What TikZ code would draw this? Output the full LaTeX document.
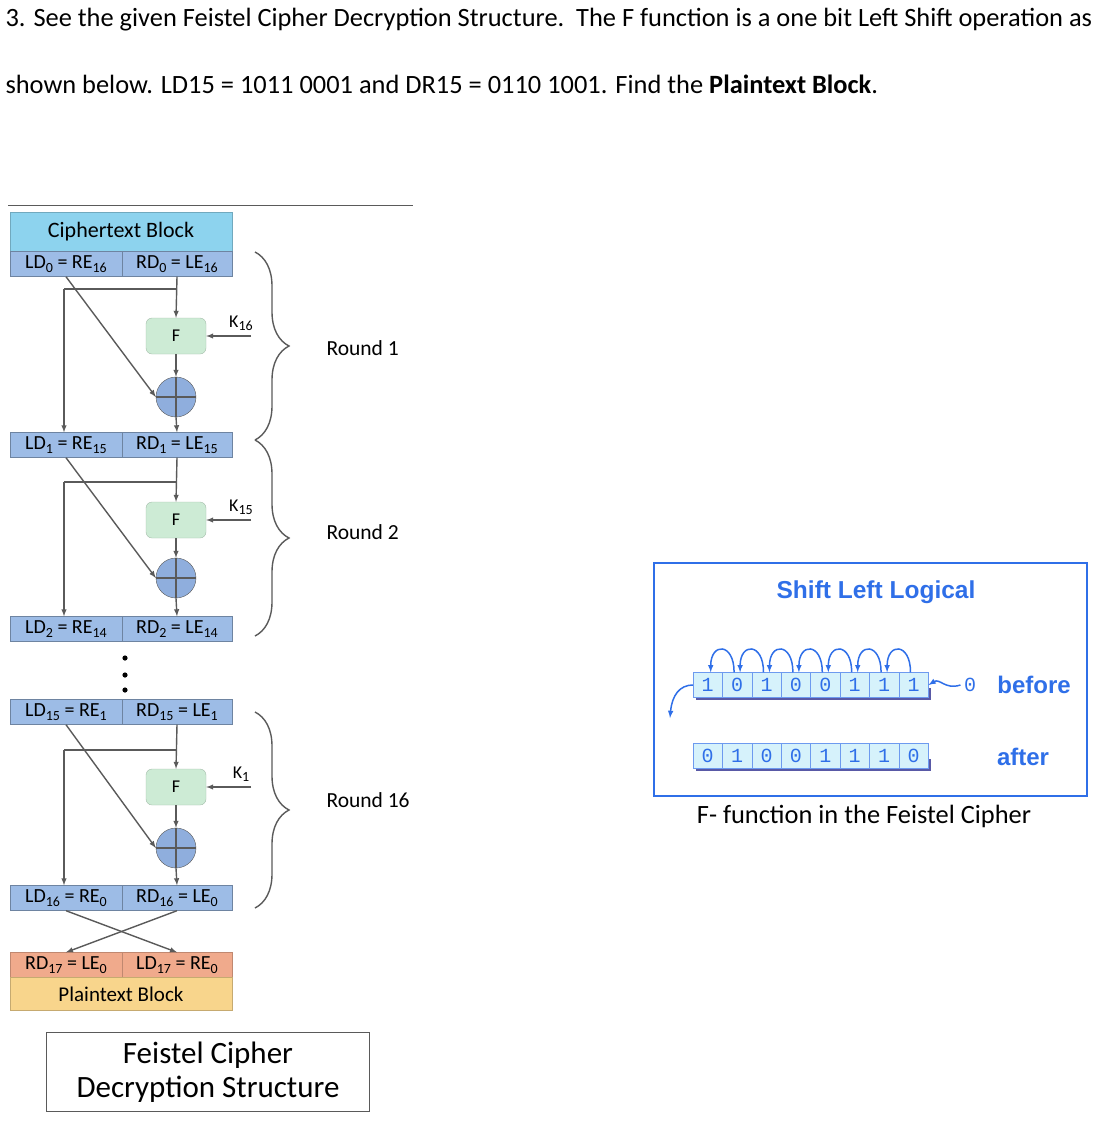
\documentclass[tikz,border=0pt]{standalone}
\usepackage{fontspec}
\setmainfont{Carlito}
\newfontfamily\arialfont{Liberation Sans}
\newfontfamily\monofont{Liberation Mono}
\usetikzlibrary{positioning,decorations.pathreplacing,calc}

\definecolor{cipherblue}{HTML}{8DD3EE}
\definecolor{rowblue}{HTML}{9DBCE6}
\definecolor{fgreen}{HTML}{CDEBD5}
\definecolor{xorblue}{HTML}{8FAEDD}
\definecolor{plainorange}{HTML}{F0AA8C}
\definecolor{plainyellow}{HTML}{F8D58C}
\definecolor{shiftblue}{HTML}{2F6FE8}
\definecolor{cellfill}{HTML}{D6F2FB}
\definecolor{linegray}{HTML}{5A5A5A}

\newcommand{\sub}[1]{\raisebox{-0.35ex}{\fontsize{14}{14}\selectfont #1}}

\tikzset{
  half/.style={draw=rowblue!70!black,fill=rowblue,minimum height=25pt,inner sep=0pt,font=\fontsize{20}{20}\selectfont},
  ffun/.style={draw=fgreen!80!black,fill=fgreen,rounded corners=6pt,minimum width=60pt,minimum height=36pt,font=\fontsize{18}{18}\selectfont},
  xor/.style={draw=linegray,fill=xorblue,circle,minimum size=40pt,inner sep=0pt},
  flow/.style={draw=linegray,line width=1.4pt,-latex},
  cell/.style={draw=shiftblue!70,fill=cellfill,minimum width=29.4pt,minimum height=25pt,inner sep=0pt,font=\monofont\fontsize{20}{20}\selectfont,text=shiftblue},
  brc/.style={draw=linegray,line width=1.4pt,decorate,decoration={brace,amplitude=34pt}},
}

\begin{document}
\begin{tikzpicture}[x=1pt,y=-1pt]
  \useasboundingbox (0,0) rectangle (1108,1122);
  \node[anchor=west,font=\fontsize{26.4}{26}\selectfont] (head1) at (2,20) {3. See the given Feistel Cipher Decryption Structure.\ \ The F function is a one bit Left Shift operation as};
  \node[anchor=west,font=\fontsize{26.4}{26}\selectfont] (head2) at (2,84) {shown below. LD15 = 1011 0001 and DR15 = 0110 1001. Find the \textbf{Plaintext Block}.};
  \draw[linegray,line width=0.8pt] (8,205) -- (413,205);

  % ciphertext block
  \node[draw=cipherblue!80!black,fill=cipherblue,minimum width=222pt,minimum height=40pt,inner sep=0pt,font=\fontsize{22}{22}\selectfont] (ctext) at (121,232) {Ciphertext Block};

  % rows
  \foreach \y/\n/\l/\r in {264/0/LD\sub{0} = RE\sub{16}/RD\sub{0} = LE\sub{16},
                         445/1/LD\sub{1} = RE\sub{15}/RD\sub{1} = LE\sub{15},
                         629/2/LD\sub{2} = RE\sub{14}/RD\sub{2} = LE\sub{14},
                         712/15/LD\sub{15} = RE\sub{1}/RD\sub{15} = LE\sub{1},
                         898/16/LD\sub{16} = RE\sub{0}/RD\sub{16} = LE\sub{0}}{
    \node[half,minimum width=112pt] (r\n L) at (66,\y) {\l};
    \node[half,minimum width=110pt] (r\n R) at (177,\y) {\r};
  }

  % rounds
  \foreach \a/\b/\f/\x/\h/\k in {0/1/336/397/289/16, 1/2/520/578/482/15, 15/16/787/848/750/1}{
    \node[ffun] (F\a) at (176,\f) {F};
    \node[xor] (X\a) at (176,\x) {};
    \draw[linegray,line width=1.2pt] (X\a.north) -- (X\a.south) (X\a.west) -- (X\a.east);
    \coordinate (K\a) at (251,\f);
    \node[font=\fontsize{18}{18}\selectfont,anchor=south] at (241,\f-2) {K\sub{\k}};
    \draw[flow] (K\a) -- (F\a.east);
    \coordinate (h\a) at (176,\h);
    \coordinate (v\a) at (64,\h);
    \draw[flow] (r\a R.south) -- (F\a.north);
    \draw[draw=linegray,line width=1.4pt] (h\a) -- (v\a);
    \draw[flow] (v\a) -- (v\a |- r\b L.north);
    \draw[flow] (F\a.south) -- (X\a.north);
    \draw[flow] (X\a.south) -- (r\b R.north);
    \draw[flow] (r\a L.south) -- (X\a.west);
  }

  % dots
  \foreach \y in {658,675,690}{
    \fill (125,\y) circle (2.6pt);
  }

  % swap and plaintext
  \node[draw=plainorange!80!black,fill=plainorange,minimum width=112pt,minimum height=25pt,inner sep=0pt,font=\fontsize{20}{20}\selectfont] (p17L) at (66,965) {RD\sub{17} = LE\sub{0}};
  \node[draw=plainorange!80!black,fill=plainorange,minimum width=110pt,minimum height=25pt,inner sep=0pt,font=\fontsize{20}{20}\selectfont] (p17R) at (177,965) {LD\sub{17} = RE\sub{0}};
  \node[draw=plainyellow!80!black,fill=plainyellow,minimum width=222pt,minimum height=33pt,inner sep=0pt,font=\fontsize{21}{21}\selectfont] (ptext) at (121,994) {Plaintext Block};
  \draw[flow] (r16L.south) -- (p17R.north);
  \draw[flow] (r16R.south) -- (p17L.north);

  \node[draw=linegray,minimum width=323pt,minimum height=79pt,align=center,font=\fontsize{31}{34}\selectfont] (caption) at (208,1072) {Feistel Cipher\\Decryption Structure};

  % braces
  \draw[brc] (255,252) -- (255,440);
  \draw[brc] (255,440) -- (255,636);
  \draw[brc] (255,712) -- (255,908);
  \node[anchor=west,font=\fontsize{21.5}{21}\selectfont] (rd1) at (323,348) {Round 1};
  \node[anchor=west,font=\fontsize{21.5}{21}\selectfont] (rd2) at (323,532) {Round 2};
  \node[anchor=west,font=\fontsize{21.5}{21}\selectfont] (rd16) at (323,800) {Round 16};

  % shift left logical
  \node[draw=shiftblue,line width=1.5pt,minimum width=433pt,minimum height=233pt] (shbox) at (870.5,679.5) {};
  \node[font=\arialfont\bfseries\fontsize{24.5}{24}\selectfont,text=shiftblue] (shtitle) at (876,592) {Shift Left Logical};
  \foreach \b [count=\i] in {1,0,1,0,0,1,1,1}{
    \fill[gray!70!blue] (693+29.4*\i-29.4+3,688) rectangle ++(29.4,12);
    \node[cell] (b\i) at (693+29.4*\i-14.7,685) {\b};
  }
  \foreach \b [count=\i] in {0,1,0,0,1,1,1,0}{
    \fill[gray!70!blue] (693+29.4*\i-29.4+3,759) rectangle ++(29.4,12);
    \node[cell] (a\i) at (693+29.4*\i-14.7,756) {\b};
  }
  \foreach \i [evaluate=\i as \j using int(\i+1)] in {1,...,7}{
    \draw[shiftblue,line width=1.5pt,-latex] ([xshift=-3pt]b\j.north) .. controls +(0,-30) and +(0,-30) .. ([xshift=3pt]b\i.north);
  }
  \node[font=\monofont\fontsize{20}{20}\selectfont,text=shiftblue] (zero) at (970,685) {0};
  \draw[shiftblue,line width=1.5pt,-latex] (zero.west) .. controls (945,690) and (940,678) .. (b8.east);
  \coordinate (out) at (670,718);
  \draw[shiftblue,line width=1.5pt,-latex] (b1.west) .. controls (680,685) and (672,695) .. (out);
  \node[font=\arialfont\bfseries\fontsize{24}{24}\selectfont,text=shiftblue] (before) at (1034,685) {before};
  \node[font=\arialfont\bfseries\fontsize{24}{24}\selectfont,text=shiftblue] (after) at (1023,757) {after};
  \node[font=\fontsize{26.4}{26}\selectfont] (fcap) at (864,816) {F- function in the Feistel Cipher};
\end{tikzpicture}
\end{document}
